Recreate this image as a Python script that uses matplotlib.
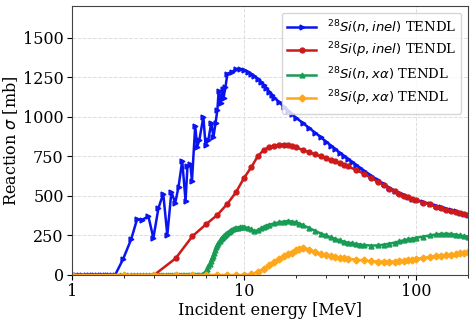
"""Si-28 reaction cross sections from TENDL: inelastic and alpha production, n vs p."""

import matplotlib
matplotlib.use("Agg")
import matplotlib.pyplot as plt

plt.rcParams["font.family"] = "serif"
plt.rcParams["font.serif"] = ["DejaVu Serif"]
plt.rcParams["mathtext.fontset"] = "dejavusans"

# (n, inel): resonance-like jitter below ~8 MeV, smooth above
n_inel_E = [1.0, 1.05, 1.1, 1.15, 1.2, 1.25, 1.3, 1.35, 1.4, 1.45, 1.5, 1.55,
            1.6, 1.65, 1.7, 1.78,
            1.98, 2.21, 2.39, 2.56, 2.78, 2.97, 3.18, 3.39, 3.58, 3.78, 3.98,
            4.16, 4.37, 4.57, 4.69, 4.87, 4.98, 5.2, 5.34, 5.5, 5.8, 5.97,
            6.2, 6.45, 6.64, 6.83, 7.0, 7.12, 7.3, 7.5, 7.6, 7.8, 8.0, 8.5,
            9.0, 9.5, 10.0, 10.5, 11.0, 11.5, 12.0, 12.5, 13.0, 13.5, 14.0,
            14.5, 15.0, 16.0, 17.0, 18.0, 19.0, 20.0, 22.0, 24.0, 26.0, 28.0,
            30.0, 32.0, 34.0, 36.0, 38.0, 40.0, 42.5, 45.0, 47.5, 50.0, 55.0,
            60.0, 65.0, 70.0, 75.0, 80.0, 85.0, 90.0, 95.0, 100.0, 110.0,
            120.0, 130.0, 140.0, 150.0, 160.0, 170.0, 180.0, 190.0, 200.0]
n_inel_xs = [0, 0, 0, 0, 0, 0, 0, 0, 0, 0, 0, 0,
             0, 0, 0, 0,
             100, 228, 354, 350, 370, 234, 424, 513, 253, 525, 456,
             557, 722, 468, 690, 703, 595, 943, 810, 855, 1000, 822,
             855, 962, 873, 962, 1045, 1165, 1087, 1177, 1120, 1190, 1272, 1285,
             1300, 1302, 1295, 1285, 1270, 1255, 1240, 1222, 1200, 1180, 1160,
             1140, 1122, 1092, 1065, 1040, 1015, 995, 960, 928, 898, 870,
             843, 818, 795, 772, 752, 735, 714, 694, 675, 658, 628,
             598, 573, 552, 533, 517, 503, 492, 483, 475, 462,
             450, 438, 428, 420, 410, 402, 394, 387, 380]

# (p, inel)
p_inel_E = [3, 4, 5, 6, 7, 8, 9, 10, 11, 12, 13, 14, 15, 16, 17, 18, 19, 20,
            22, 24, 26, 28, 30, 32, 34, 36, 38, 40, 45, 50, 55, 60, 65, 70,
            75, 80, 85, 90, 95, 100, 110, 120, 130, 140, 150, 160, 170, 180,
            190, 200]
p_inel_xs = [0, 105, 244, 320, 380, 450, 525, 614, 680, 750, 790, 808, 818,
             823, 825, 822, 815, 808, 790, 775, 762, 750, 740, 728, 718, 708,
             698, 688, 662, 640, 612, 590, 568, 545, 528, 512, 500, 490, 480,
             472, 458, 446, 432, 422, 412, 404, 397, 390, 385, 380]

# (n, x alpha)
n_xa_E = [1.0, 1.9, 2.0, 2.1, 2.2, 2.3, 2.4, 2.5, 2.6, 2.7, 2.8, 2.9, 3.0,
          3.1, 3.2, 3.3, 3.4, 3.5, 3.6, 3.7, 3.8, 3.9, 4.0, 4.1, 4.2, 4.3,
          4.4, 4.5, 4.6, 4.7, 4.8, 4.9, 5.0, 5.1, 5.2, 5.3, 5.4, 5.5, 5.6,
          5.7, 5.8, 5.9, 6.0, 6.1, 6.2, 6.3, 6.4, 6.5, 6.6, 6.7, 6.8, 6.9,
          7.0, 7.1, 7.2, 7.3, 7.4, 7.5, 7.6, 7.7, 7.85, 8.0, 8.15, 8.3, 8.45,
          8.6, 8.8, 9.0, 9.25, 9.5, 9.75, 10.0, 10.5, 11.0,
          11.5, 12.0, 12.5, 13.0, 13.5, 14.0, 15.0, 16.0, 17.0, 18.0, 19.0,
          20.0, 21.0, 22.0, 24.0, 26.0, 28.0, 30.0, 32.0, 34.0, 36.0, 38.0,
          40.0, 42.5, 45.0, 47.5, 50.0, 55.0, 60.0, 65.0, 70.0, 75.0, 80.0,
          85.0, 90.0, 95.0, 100.0, 110.0, 120.0, 130.0, 140.0, 150.0, 160.0,
          170.0, 180.0, 190.0, 200.0]
n_xa_xs = [0, 0, 0, 0, 0, 0, 0, 0, 0, 0, 0, 0, 0,
           0, 0, 0, 0, 0, 0, 0, 0, 0, 0, 0, 0, 0,
           0, 0, 0, 0, 0, 0, 0, 0, 0, 0, 0, 1, 2,
           3, 8, 15, 26, 40, 55, 70, 88, 105, 122, 140, 158, 175,
           190, 203, 215, 225, 234, 242, 249, 255, 262, 268, 274, 280, 285,
           290, 294, 297, 300, 302, 303, 303, 298, 288,
           276, 283, 294, 304, 312, 318, 326, 333, 338, 341, 338,
           332, 325, 315, 296, 278, 262, 250, 238, 228, 219, 211,
           205, 200, 196, 192, 189, 186, 187, 192, 198, 205, 212,
           220, 226, 230, 235, 243, 250, 256, 260, 261, 259,
           255, 250, 246, 243]

# (p, x alpha)
p_xa_E = [1, 2, 3, 4, 5, 6, 7, 8, 9, 10, 11, 12, 13, 14, 15, 16, 17, 18, 19,
          20, 21, 22, 24, 26, 28, 30, 32, 34, 36, 38, 40, 45, 50, 55, 60, 65,
          70, 75, 80, 85, 90, 95, 100, 110, 120, 130, 140, 150, 160, 170, 180,
          190, 200]
p_xa_xs = [0, 0, 0, 0, 0, 0, 0, 0, 0, 0, 5, 19, 40, 62, 85, 103, 118, 130,
           142, 155, 167, 173, 160, 146, 134, 125, 119, 114, 110, 106, 103,
           97, 92, 88, 85, 83, 83, 85, 87, 90, 93, 97, 101, 108, 114, 118,
           122, 125, 129, 133, 137, 140, 143]

series = [
    (n_inel_E, n_inel_xs, "#0a14f0", ">", r"$^{28}Si(n, inel)$ TENDL"),
    (p_inel_E, p_inel_xs, "#cc1a1a", "o", r"$^{28}Si(p, inel)$ TENDL"),
    (n_xa_E, n_xa_xs, "#189c55", "^", r"$^{28}Si(n, x\alpha)$ TENDL"),
    (p_xa_E, p_xa_xs, "#ffa71a", "D", r"$^{28}Si(p, x\alpha)$ TENDL"),
]

fig = plt.figure(figsize=(4.74, 3.22), dpi=100)
ax = fig.add_axes([0.152, 0.146, 0.835, 0.835])
for E, xs, color, marker, label in series:
    ax.plot(E, xs, color=color, marker=marker, ms=3.5, lw=1.8, label=label)

ax.set_xscale("log")
ax.set_xlim(1, 200)
ax.set_ylim(0, 1700)
ax.set_yticks([0, 250, 500, 750, 1000, 1250, 1500])
ax.set_xticks([1, 10, 100])
ax.set_xticklabels(["1", "10", "100"])
ax.tick_params(labelsize=11.5, pad=2.5)
ax.set_xlabel("Incident energy [MeV]", fontsize=11.5, labelpad=1)
ax.set_ylabel(r"Reaction $\sigma$ [mb]", fontsize=11.5, labelpad=2)
ax.grid(color="#dddddd", ls="--", lw=0.7)
for sp in ax.spines.values():
    sp.set_color("#444444")
ax.legend(loc="upper right", fontsize=9.5, handlelength=2.2, labelspacing=0.4)

fig.savefig("out.png", dpi=100)
